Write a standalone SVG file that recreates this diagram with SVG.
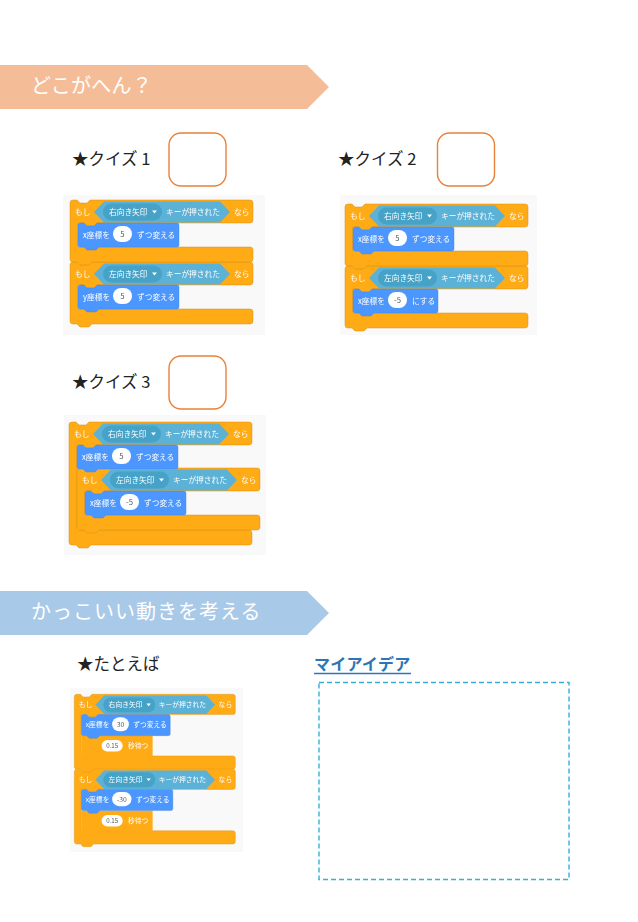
<svg xmlns="http://www.w3.org/2000/svg" width="638" height="922" viewBox="0 0 638 922">
<style>
text{font-family:"Noto Sans CJK JP","Noto Sans",sans-serif}
.head{fill:#fff;font-size:20px;letter-spacing:1px}
.head1{letter-spacing:.3px}
.label{fill:#222;font-size:16.500px}
.answer{fill:#fff;stroke:#e8823a;stroke-width:1.4}
.pane{fill:#f9f9f9}
.ctl{fill:#ffab19;stroke:#d8921a;stroke-width:.5}
.hex{fill:#5cb1d6}
.pill{fill:#47a2c8}
.mot{fill:#4c97ff;stroke:#3d80d8;stroke-width:.4}
.t{fill:#fff;font-size:7.700px}
.n{fill:#555;font-size:7.700px;text-anchor:middle}
.val{fill:#fff}
.tip{fill:#fff}
.soft{filter:url(#soft)}
</style>
<defs>
<filter id="soft" x="-2%" y="-2%" width="104%" height="104%"><feGaussianBlur stdDeviation=".35"/></filter>
<path id="c" d="M3,0H7L10,3H17L20,0H180Q183,0 183,3V20Q183,23 180,23H27L24,26H17L14,23H8V47H180Q183,47 183,50V59Q183,62 180,62H22L19,65H10L7,62H3Q0,62 0,59V3Q0,0 3,0Z"/>
<path id="c-outer" d="M3,0H7L10,3H17L20,0H180Q183,0 183,3V20Q183,23 180,23H27L24,26H17L14,23H8V108H180Q183,108 183,111V120Q183,123 180,123H22L19,126H10L7,123H3Q0,123 0,120V3Q0,0 3,0Z"/>
<path id="c-wait" d="M3,0H7L10,3H17L20,0H180Q183,0 183,3V20Q183,23 180,23H27L24,26H17L14,23H8V70H180Q183,70 183,73V82Q183,85 180,85H22L19,88H10L7,85H3Q0,85 0,82V3Q0,0 3,0Z"/>
<path id="m101" d="M2,0H6L9,3H16L19,0H99Q101,0 101,2V22Q101,24 99,24H21L18,27H9L6,24H2Q0,24 0,22V2Q0,0 2,0Z"/>
<path id="m104" d="M2,0H6L9,3H16L19,0H102Q104,0 104,2V22Q104,24 102,24H21L18,27H9L6,24H2Q0,24 0,22V2Q0,0 2,0Z"/>
<path id="m85" d="M2,0H6L9,3H16L19,0H83Q85,0 85,2V22Q85,24 83,24H21L18,27H9L6,24H2Q0,24 0,22V2Q0,0 2,0Z"/>
<path id="hexa" d="M34,1.500H150L160,12L150,22.500H34L24,12Z"/>
<path id="tri" d="M0,0H5L2.500,3Z"/>
</defs>

<rect width="638" height="922" fill="#fff"/>

<g id="banner-1">
<polygon points="0,65 307,65 329,87 307,109 0,109" fill="#f4bd98"/>
<text class="head head1" x="31" y="93">どこがへん？</text>
</g>
<g id="banner-2">
<polygon points="0,591 307,591 329,613 307,635 0,635" fill="#a9c9e8"/>
<text class="head" x="31" y="619">かっこいい動きを考える</text>
</g>

<g id="quiz-1-label"><text class="label" x="72" y="165">★クイズ 1</text></g>
<g id="quiz-1-answer"><rect class="answer" x="169" y="133" width="57" height="53" rx="12"/></g>
<g id="quiz-2-label"><text class="label" x="338" y="165">★クイズ 2</text></g>
<g id="quiz-2-answer"><rect class="answer" x="437.500" y="133" width="57" height="53" rx="12"/></g>
<g id="quiz-3-label"><text class="label" x="72" y="388">★クイズ 3</text></g>
<g id="quiz-3-answer"><rect class="answer" x="169" y="356" width="57" height="53" rx="12"/></g>
<g id="example-label"><text class="label" x="77" y="670">★たとえば</text></g>
<g id="my-idea">
<text x="314" y="670" font-size="16" font-weight="700" fill="#2e75b6" letter-spacing=".2">マイアイデア</text>
<line x1="314" y1="673.500" x2="411" y2="673.500" stroke="#2e75b6" stroke-width="1.300"/>
<rect x="319" y="682.500" width="250" height="197" fill="none" stroke="#36afdc" stroke-width="1.400" stroke-dasharray="5 3"/>
</g>

<g id="quiz-1-code">
<rect class="pane" x="63" y="195" width="202" height="140"/>
<g class="soft">
<g transform="translate(70,262)">
<use href="#c" class="ctl"/><use href="#hexa" class="hex"/><rect class="pill" x="33" y="3.500" width="59" height="17" rx="8.500"/>
<text class="t" x="5" y="14.500">もし</text><text class="t" x="39" y="14.500">左向き矢印</text><use href="#tri" class="tip" x="82" y="10.500"/><text class="t" x="96" y="14.500">キーが押された</text><text class="t" x="164" y="14.500">なら</text>
<g transform="translate(8,23)"><use href="#m101" class="mot"/><text class="t" x="5" y="14.500">y座標を</text><rect class="val" x="35" y="3" width="19" height="16" rx="8"/><text class="n" x="44.500" y="14">5</text><text class="t" x="59" y="14.500">ずつ変える</text></g>
</g>
<g transform="translate(70,200)">
<use href="#c" class="ctl"/><use href="#hexa" class="hex"/><rect class="pill" x="33" y="3.500" width="59" height="17" rx="8.500"/>
<text class="t" x="5" y="14.500">もし</text><text class="t" x="39" y="14.500">右向き矢印</text><use href="#tri" class="tip" x="82" y="10.500"/><text class="t" x="96" y="14.500">キーが押された</text><text class="t" x="164" y="14.500">なら</text>
<g transform="translate(8,23)"><use href="#m101" class="mot"/><text class="t" x="5" y="14.500">x座標を</text><rect class="val" x="35" y="3" width="19" height="16" rx="8"/><text class="n" x="44.500" y="14">5</text><text class="t" x="59" y="14.500">ずつ変える</text></g>
</g>
</g>
</g>

<g id="quiz-2-code">
<rect class="pane" x="340" y="195" width="197" height="140"/>
<g class="soft">
<g transform="translate(345,266)">
<use href="#c" class="ctl"/><use href="#hexa" class="hex"/><rect class="pill" x="33" y="3.500" width="59" height="17" rx="8.500"/>
<text class="t" x="5" y="14.500">もし</text><text class="t" x="39" y="14.500">左向き矢印</text><use href="#tri" class="tip" x="82" y="10.500"/><text class="t" x="96" y="14.500">キーが押された</text><text class="t" x="164" y="14.500">なら</text>
<g transform="translate(8,23)"><use href="#m85" class="mot"/><text class="t" x="5" y="14.500">x座標を</text><rect class="val" x="35" y="3" width="19" height="16" rx="8"/><text class="n" x="44.500" y="14">-5</text><text class="t" x="59" y="14.500">にする</text></g>
</g>
<g transform="translate(345,204)">
<use href="#c" class="ctl"/><use href="#hexa" class="hex"/><rect class="pill" x="33" y="3.500" width="59" height="17" rx="8.500"/>
<text class="t" x="5" y="14.500">もし</text><text class="t" x="39" y="14.500">右向き矢印</text><use href="#tri" class="tip" x="82" y="10.500"/><text class="t" x="96" y="14.500">キーが押された</text><text class="t" x="164" y="14.500">なら</text>
<g transform="translate(8,23)"><use href="#m101" class="mot"/><text class="t" x="5" y="14.500">x座標を</text><rect class="val" x="35" y="3" width="19" height="16" rx="8"/><text class="n" x="44.500" y="14">5</text><text class="t" x="59" y="14.500">ずつ変える</text></g>
</g>
</g>
</g>

<g id="quiz-3-code">
<rect class="pane" x="64" y="415" width="202" height="140"/>
<g class="soft">
<g transform="translate(69,422)">
<use href="#c-outer" class="ctl"/><use href="#hexa" class="hex"/><rect class="pill" x="33" y="3.500" width="59" height="17" rx="8.500"/>
<text class="t" x="5" y="14.500">もし</text><text class="t" x="39" y="14.500">右向き矢印</text><use href="#tri" class="tip" x="82" y="10.500"/><text class="t" x="96" y="14.500">キーが押された</text><text class="t" x="164" y="14.500">なら</text>
</g>
<g transform="translate(77,468)">
<use href="#c" class="ctl"/><use href="#hexa" class="hex"/><rect class="pill" x="33" y="3.500" width="59" height="17" rx="8.500"/>
<text class="t" x="5" y="14.500">もし</text><text class="t" x="39" y="14.500">左向き矢印</text><use href="#tri" class="tip" x="82" y="10.500"/><text class="t" x="96" y="14.500">キーが押された</text><text class="t" x="164" y="14.500">なら</text>
<g transform="translate(8,23)"><use href="#m101" class="mot"/><text class="t" x="5" y="14.500">x座標を</text><rect class="val" x="35" y="3" width="19" height="16" rx="8"/><text class="n" x="44.500" y="14">-5</text><text class="t" x="59" y="14.500">ずつ変える</text></g>
</g>
<g transform="translate(77,445)"><use href="#m101" class="mot"/><text class="t" x="5" y="14.500">x座標を</text><rect class="val" x="35" y="3" width="19" height="16" rx="8"/><text class="n" x="44.500" y="14">5</text><text class="t" x="59" y="14.500">ずつ変える</text></g>
</g>
</g>

<g id="example-code">
<rect class="pane" x="70" y="688" width="173" height="164"/>
<g class="soft">
<g transform="translate(74.300,769.200) scale(.88)">
<use href="#c-wait" class="ctl"/><use href="#hexa" class="hex"/><rect class="pill" x="33" y="3.500" width="59" height="17" rx="8.500"/>
<text class="t" x="5" y="14.500">もし</text><text class="t" x="39" y="14.500">左向き矢印</text><use href="#tri" class="tip" x="82" y="10.500"/><text class="t" x="96" y="14.500">キーが押された</text><text class="t" x="164" y="14.500">なら</text>
<rect x="8" y="47" width="81" height="24" fill="#ffab19"/>
<rect class="val" x="31" y="52" width="24" height="13" rx="6.500"/><text class="n" x="43" y="61.500" style="font-size:7px">0.15</text><text class="t" x="61" y="61.500">秒待つ</text>
<g transform="translate(8,23)"><use href="#m104" class="mot"/><text class="t" x="5" y="14.500">x座標を</text><rect class="val" x="35" y="3" width="22" height="16" rx="8"/><text class="n" x="46" y="14">-30</text><text class="t" x="62" y="14.500">ずつ変える</text></g>
</g>
<g transform="translate(74.300,694.300) scale(.88)">
<use href="#c-wait" class="ctl"/><use href="#hexa" class="hex"/><rect class="pill" x="33" y="3.500" width="59" height="17" rx="8.500"/>
<text class="t" x="5" y="14.500">もし</text><text class="t" x="39" y="14.500">右向き矢印</text><use href="#tri" class="tip" x="82" y="10.500"/><text class="t" x="96" y="14.500">キーが押された</text><text class="t" x="164" y="14.500">なら</text>
<rect x="8" y="47" width="81" height="24" fill="#ffab19"/>
<rect class="val" x="31" y="52" width="24" height="13" rx="6.500"/><text class="n" x="43" y="61.500" style="font-size:7px">0.15</text><text class="t" x="61" y="61.500">秒待つ</text>
<g transform="translate(8,23)"><use href="#m101" class="mot"/><text class="t" x="5" y="14.500">x座標を</text><rect class="val" x="35" y="3" width="19" height="16" rx="8"/><text class="n" x="44.500" y="14">30</text><text class="t" x="59" y="14.500">ずつ変える</text></g>
</g>
</g>
</g>
</svg>
